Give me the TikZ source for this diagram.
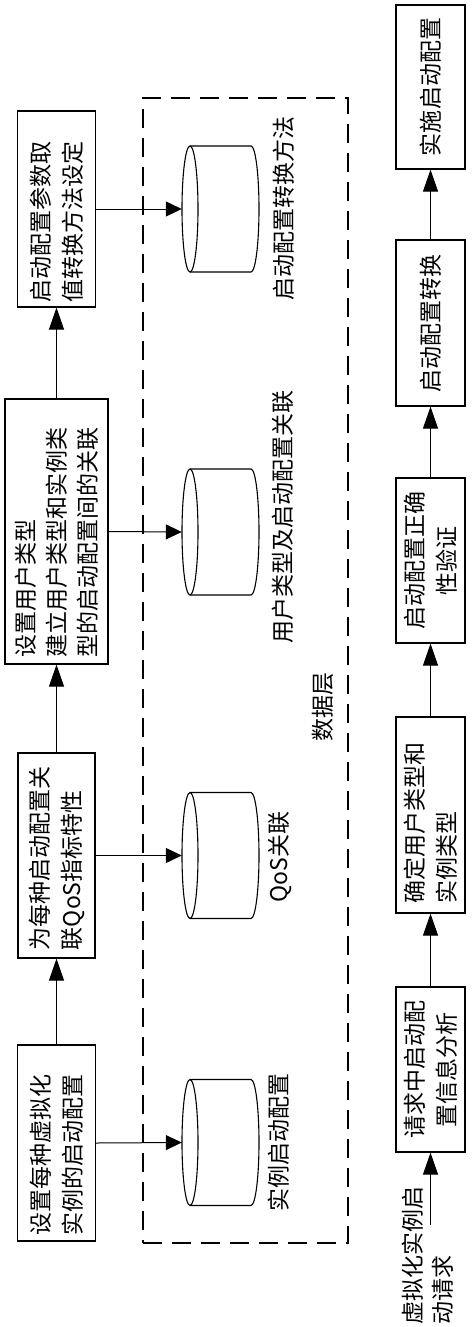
\documentclass[tikz,border=0pt]{standalone}
\usepackage{fontspec}
\newfontfamily\cjk{Noto Sans CJK SC}
\usetikzlibrary{arrows.meta}
\tikzset{
  box/.style={draw, line width=1.2pt, rotate=90, inner ysep=0pt, font=\cjk\fontsize{23}{32}\selectfont},
  lbl/.style={rotate=90, inner sep=0pt, font=\cjk\fontsize{23}{32}\selectfont},
  cylnode/.style={inner sep=0pt, minimum width=78pt, minimum height=126pt},
  cylline/.style={line width=1.1pt},
  frame/.style={draw, line width=2.2pt, dash pattern=on 19pt off 10pt, inner sep=0pt},
  varrow/.style={line width=1pt, -{Triangle[length=22pt,width=15pt]}},
  harrow/.style={line width=1pt, -{Triangle[length=16pt,width=15pt]}},
}
\newcommand\mycyl[2]{%
  \node[cylnode] (#1) at (221,#2) {};
  \draw[cylline] (190,#2-63) .. controls (185.6,#2-63) and (182,#2-34.8) .. (182,#2)
     .. controls (182,#2+34.8) and (185.6,#2+63) .. (190,#2+63)
     .. controls (194.4,#2+63) and (198,#2+34.8) .. (198,#2)
     .. controls (198,#2-34.8) and (194.4,#2-63) .. (190,#2-63) -- cycle;
  \draw[cylline] (190,#2-63) -- (251,#2-63)
     .. controls (255.4,#2-63) and (259,#2-34.8) .. (259,#2)
     .. controls (259,#2+34.8) and (255.4,#2+63) .. (251,#2+63) -- (190,#2+63);
}
\begin{document}
\begin{tikzpicture}[x=1pt,y=-1pt]
\useasboundingbox[fill=white] (0,0) rectangle (474,1327);

% data layer frame
\node[frame, minimum width=205pt, minimum height=1145pt] (frame) at (245.5,670.5) {};

% left column
\node[box, minimum width=196pt, minimum height=78pt, inner xsep=6pt, text width=184pt, align=left] (A) at (56.5,1143) {设置每种虚拟化\\实例的启动配置};
\node[box, minimum width=205pt, minimum height=77pt, inner xsep=8pt, text width=189pt, align=left] (B) at (56.5,855.5) {为每种启动配置关\\联QoS指标特性};
\node[box, minimum width=265pt, minimum height=103pt, inner xsep=7pt, text width=251pt, align=left, font=\cjk\fontsize{23}{31}\selectfont] (C) at (56.5,531.5) {设置用户类型\\建立用户类型和实例类\\型的启动配置间的关联};
\node[box, minimum width=196pt, minimum height=78pt, inner xsep=5pt, text width=186pt, align=left] (D) at (56.5,209) {启动配置参数取\\值转换方法设定};

% cylinders
\mycyl{cyl1}{209}
\mycyl{cyl2}{532}
\mycyl{cyl3}{855.5}
\mycyl{cyl4}{1142.5}

% labels in data layer
\node[lbl] (l1) at (284,208.5) {启动配置转换方法};
\node[lbl] (l2) at (282.5,516.5) {用户类型及启动配置关联};
\node[lbl] (l3) at (280,857) {QoS关联};
\node[lbl] (l4) at (279,1142.5) {实例启动配置};
\node[lbl] (l5) at (322.5,706.5) {数据层};

% right column
\node[box, minimum width=164pt, minimum height=69pt, align=center] (R6) at (430.5,87) {实施启动配置};
\node[box, minimum width=166pt, minimum height=69pt, align=center] (R5) at (430.5,323) {启动配置转换};
\node[box, minimum width=165pt, minimum height=69pt, align=center] (R4) at (430.5,560.5) {启动配置正确\\性验证};
\node[box, minimum width=196pt, minimum height=69pt, inner xsep=10pt, text width=176pt, align=left] (R3) at (430.5,815) {确定用户类型和\\实例类型};
\node[box, minimum width=165pt, minimum height=69pt, align=center] (R2) at (430.5,1069.5) {请求中启动配\\置信息分析};
\node[lbl, text width=138pt, align=left, font=\cjk\fontsize{23}{30}\selectfont] (req) at (428,1255) {虚拟化实例启\\动请求};
\coordinate (start) at (430.5,1225);

% connectors
\draw[varrow] (A.east) -- (B.west);
\draw[varrow] (B.east) -- (C.west);
\draw[varrow] (C.east) -- (D.west);
\draw[harrow] (A.south) -- (cyl4.west);
\draw[harrow] (B.south) -- (cyl3.west);
\draw[harrow] (C.south) -- (cyl2.west);
\draw[harrow] (D.south) -- (cyl1.west);
\draw[varrow] (start) -- (R2.west);
\draw[varrow] (R2.east) -- (R3.west);
\draw[varrow] (R3.east) -- (R4.west);
\draw[varrow] (R4.east) -- (R5.west);
\draw[varrow] (R5.east) -- (R6.west);
\end{tikzpicture}
\end{document}
